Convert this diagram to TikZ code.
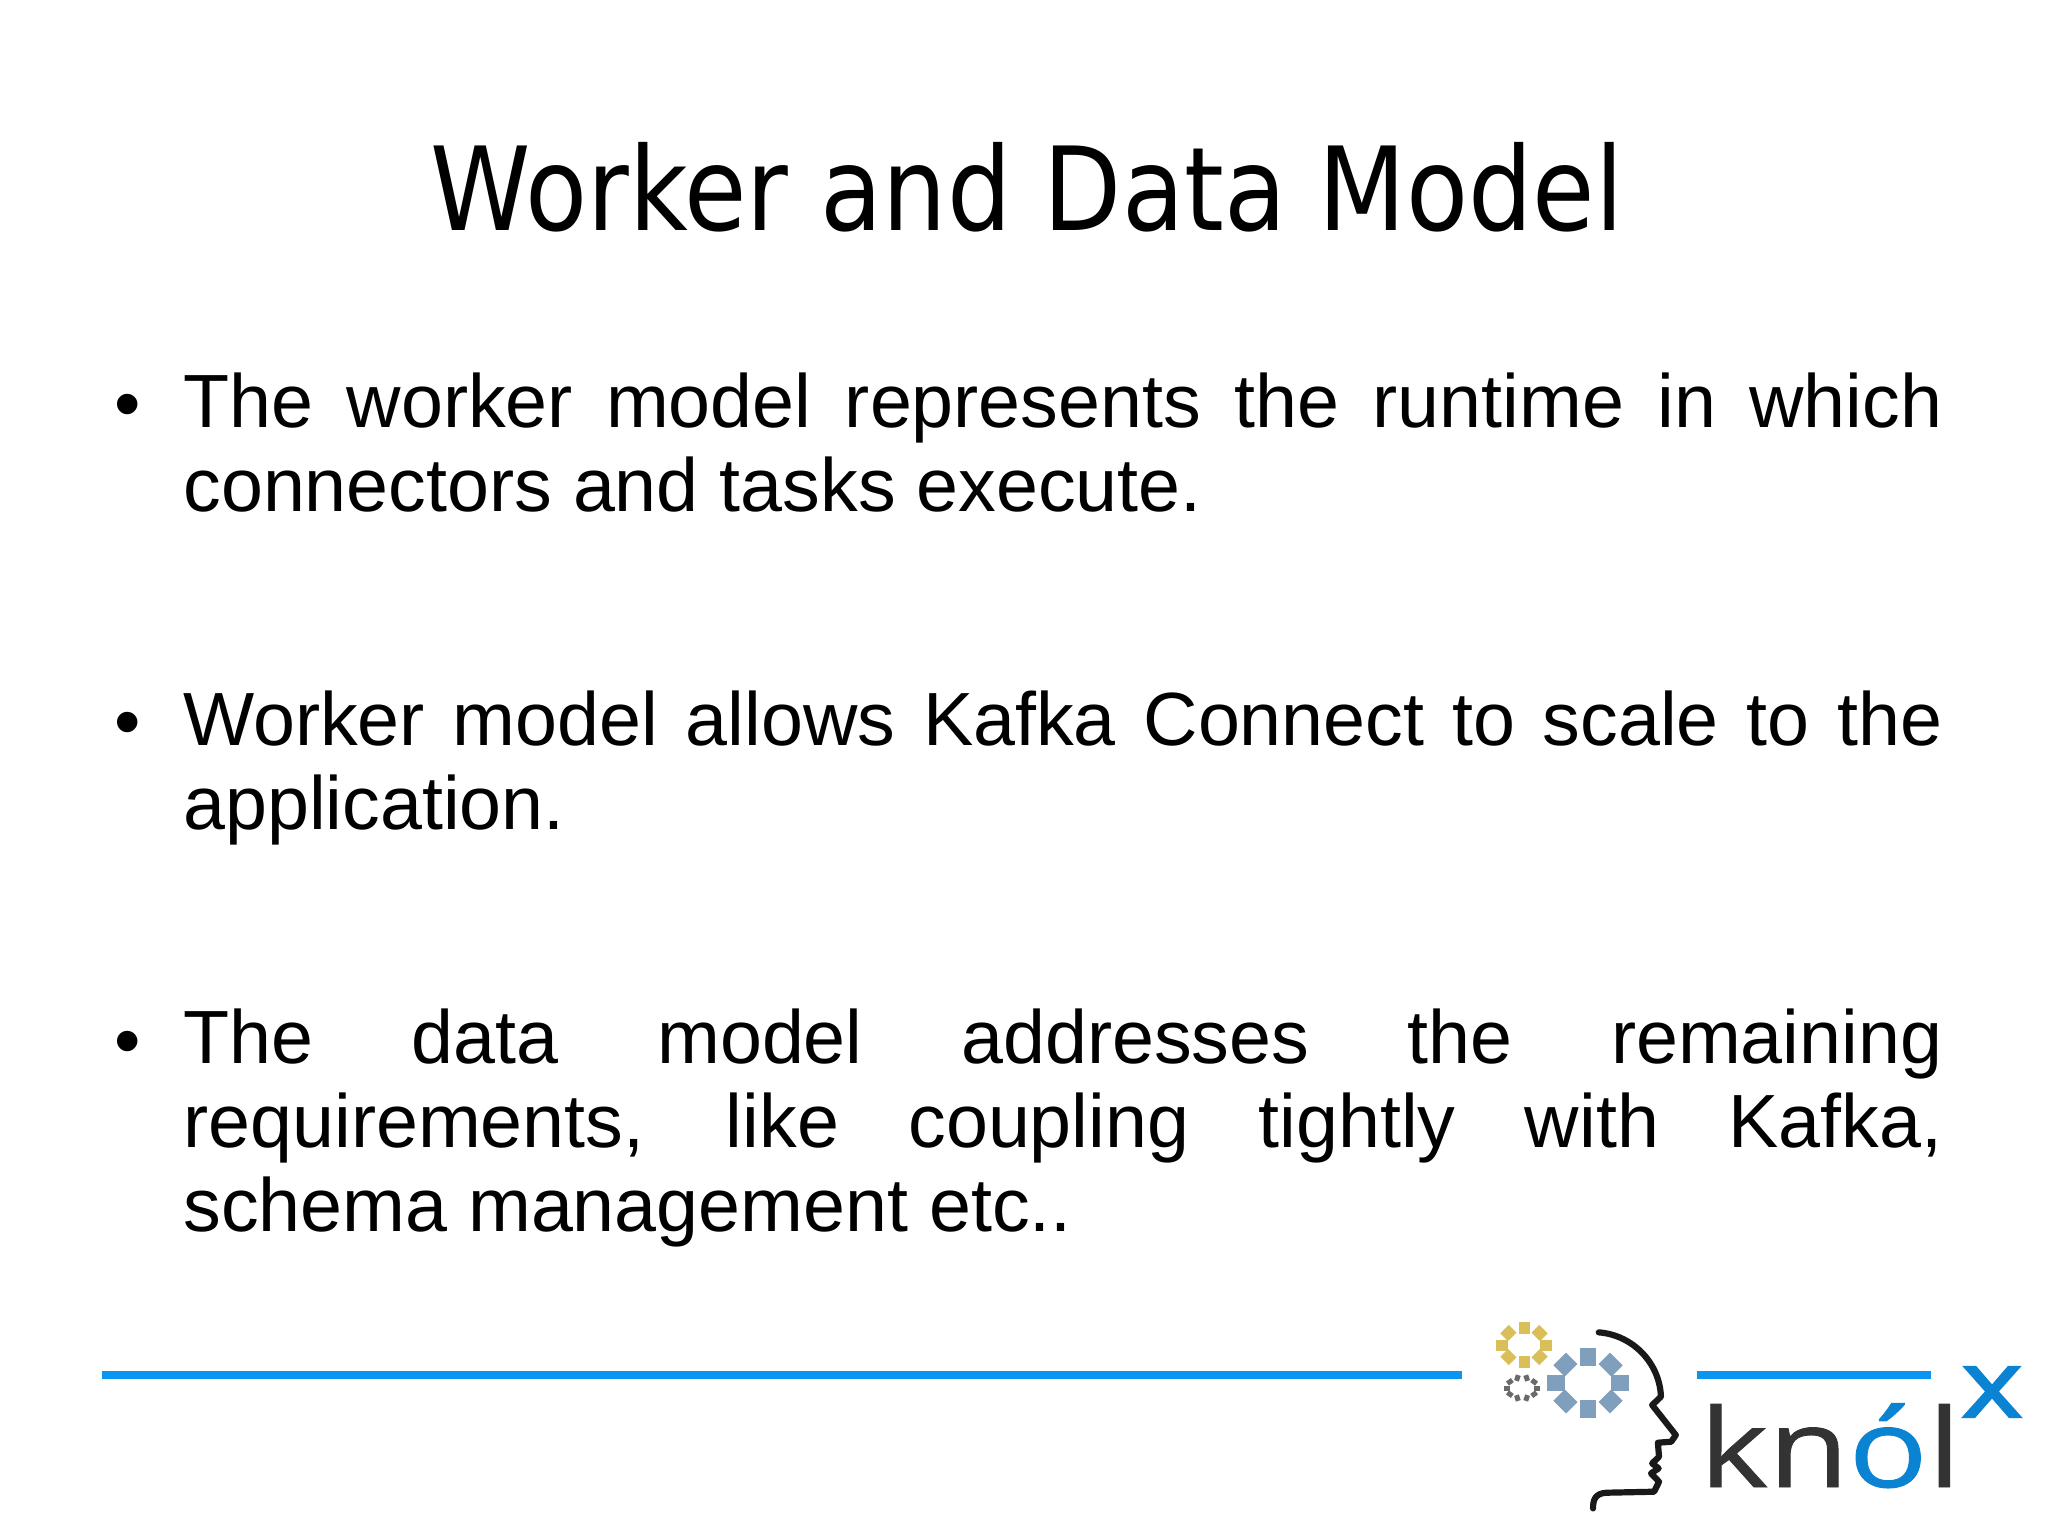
\documentclass[tikz,border=0pt]{standalone}
\usepackage{fontspec}
\setmainfont{Liberation Sans}
\newfontfamily\titlefont[FakeStretch=0.875]{DejaVu Sans}
\newfontfamily\logofont[FakeStretch=1.2, FakeBold=0.8]{Open Sans}
\newfontfamily\markfont[FakeStretch=1.25, FakeBold=2.5]{Open Sans}
\usetikzlibrary{positioning}
\definecolor{rulecol}{HTML}{0A96F0}
\definecolor{logoblue}{HTML}{0A84D2}
\definecolor{logodark}{HTML}{333333}
\definecolor{gearblue}{HTML}{7F9FBD}
\definecolor{geargold}{HTML}{D9BF5A}
\definecolor{geargrey}{HTML}{6A6A6A}
\tikzset{titletext/.style = {inner sep = 0, anchor = base, font = \titlefont\fontsize{58}{70}\selectfont}}
\tikzset{bodytext/.style = {inner sep = 0, anchor = north west, text width = 879.5pt, align = justify,
                            font = \fontsize{37.7}{42}\selectfont}}
\tikzset{bullettext/.style = {inner sep = 0, anchor = base, font = \fontsize{37.7}{42}\selectfont}}
\tikzset{rulerline/.style = {draw = rulecol, line width = 3.6pt}}
\tikzset{gearbit/.style = {inner sep = 0, rotate = #1}}
\tikzset{logotext/.style = {inner sep = 0, anchor = base west, font = \logofont\fontsize{54.6}{60}\selectfont}}

\begin{document}
\begin{tikzpicture}[x=0.5pt, y=-0.5pt]
      \useasboundingbox (0, 0) rectangle (2048, 1535);

      \node [titletext] (title) at (1027, 231) {Worker and Data Model};

      \node [bullettext] (dotA) at (128, 429) {•};
      \node [bullettext] (dotB) at (128, 747) {•};
      \node [bullettext] (dotC) at (128, 1066) {•};

      \node [bodytext] (pointA) at (183, 372) {The worker model represents the runtime in which\linebreak connectors and tasks execute.};
      \node [bodytext] (pointB) at (183, 690) {Worker model allows Kafka Connect to scale to the\linebreak application.};
      \node [bodytext] (pointC) at (183, 1008) {The data model addresses the remaining\linebreak requirements, like coupling tightly with Kafka,\linebreak schema management etc..};

      \coordinate (ruleA) at (102, 1375);
      \coordinate (ruleB) at (1462, 1375);
      \coordinate (ruleC) at (1697, 1375);
      \coordinate (ruleD) at (1931, 1375);
      \draw [rulerline] (ruleA) -- (ruleB);
      \draw [rulerline] (ruleC) -- (ruleD);

      \foreach \a in {0,45,...,315} {
        \node [gearbit=\a, fill=gearblue, minimum width=9pt, minimum height=8pt] (blue\a) at ({1588+32*cos(\a)}, {1383+26*sin(\a)}) {};
        \node [gearbit=\a, fill=geargold, minimum width=6pt, minimum height=5.5pt] (gold\a) at ({1524+22*cos(\a)}, {1345+17*sin(\a)}) {};
      }
      \foreach \a in {0,36,...,324} {
        \node [gearbit=\a, fill=geargrey, minimum width=3pt, minimum height=2.5pt] (grey\a) at ({1522+15*cos(\a)}, {1388+10.5*sin(\a)}) {};
      }

      \begin{scope}[shift={(1450, 1300)}, x=0.1907pt, y=-0.1667pt]
        \draw [line width=3.1pt, line cap=round, line join=round, black!90]
          (390, 97) .. controls (480, 105) and (550, 190) .. (553, 290)
          -- (530, 315) -- (592, 405) -- (580, 425) -- (545, 428)
          -- (548, 470) -- (530, 490) -- (547, 505) -- (527, 520) -- (548, 545) -- (535, 575)
          -- (410, 578) .. controls (380, 580) and (375, 600) .. (375, 625);
      \end{scope}

      \node [logotext] (knol) at (1699, 1487) {\textcolor{logodark}{kn}\textcolor{logoblue}{ó}\textcolor{logodark}{l}};
      \node [logotext, text=logoblue, font=\markfont\fontsize{46.7}{50}\selectfont] (sup) at (1961, 1417) {x};
\end{tikzpicture}
\end{document}
